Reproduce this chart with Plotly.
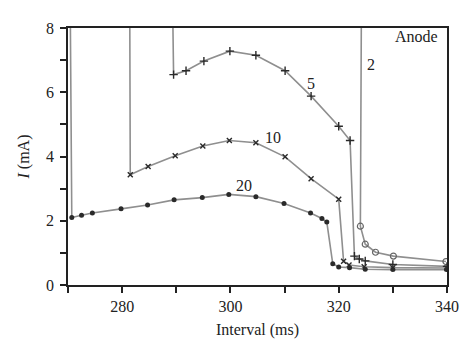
import plotly.graph_objects as go

# Series data (Interval ms, current mA); first point of each series is off-chart (vertical entry line)
x_2 = [324.2, 324.0, 324.9, 326.8, 330.1, 339.8]
y_2 = [9.0, 1.83, 1.27, 1.02, 0.90, 0.73]

x_5 = [289.3, 289.5, 291.8, 295.1, 299.9, 304.7, 310.1, 314.9, 320.0, 322.1, 322.9, 323.8, 324.9, 330.0, 340.0]
y_5 = [9.0, 6.55, 6.67, 6.97, 7.28, 7.15, 6.67, 5.88, 4.94, 4.50, 0.90, 0.81, 0.75, 0.64, 0.58]

x_10 = [281.4, 281.5, 284.8, 289.8, 294.9, 299.8, 304.7, 310.1, 314.9, 320.0, 320.9, 321.9, 324.7, 330.0, 340.0]
y_10 = [9.0, 3.43, 3.69, 4.02, 4.33, 4.50, 4.43, 3.99, 3.31, 2.67, 0.74, 0.62, 0.57, 0.54, 0.53]

x_20 = [270.4, 270.7, 272.5, 274.5, 279.8, 284.7, 289.6, 294.8, 299.7, 304.7, 309.9, 314.8, 316.9, 317.8,
        318.9, 320.0, 322.0, 324.9, 330.0, 339.9]
y_20 = [9.0, 2.10, 2.17, 2.24, 2.37, 2.49, 2.65, 2.72, 2.82, 2.75, 2.54, 2.24, 2.07, 1.96,
        0.66, 0.56, 0.54, 0.49, 0.48, 0.48]

label_text = ["Anode", "2", "5", "10", "20"]
label_x = [334.3, 325.9, 314.8, 307.9, 302.5]
label_y = [7.73, 6.87, 6.28, 4.58, 3.10]

x_tickvals = [270, 280, 290, 300, 310, 320, 330, 340]
x_ticktext = ["", "280", "", "300", "", "320", "", "340"]
y_tickvals = [0, 1, 2, 3, 4, 5, 6, 7, 8]
y_ticktext = ["0", "", "2", "", "4", "", "6", "", "8"]

FONT = "Liberation Serif"
LINE_C = "#8f8f8f"
MARK_C = "#2a2a2a"

fig = go.Figure()
fig.add_trace(go.Scatter(x=x_2, y=y_2, mode="lines+markers",
                         line=dict(color=LINE_C, width=1.6),
                         marker=dict(symbol="circle-open", size=6, color="#666666", line=dict(width=1.2))))
fig.add_trace(go.Scatter(x=x_5, y=y_5, mode="lines+markers",
                         line=dict(color=LINE_C, width=1.6),
                         marker=dict(symbol="cross-thin", size=6, color=MARK_C, line=dict(width=1.4, color=MARK_C))))
fig.add_trace(go.Scatter(x=x_10, y=y_10, mode="lines+markers",
                         line=dict(color=LINE_C, width=1.6),
                         marker=dict(symbol="x-thin", size=5, color=MARK_C, line=dict(width=1.4, color=MARK_C))))
fig.add_trace(go.Scatter(x=x_20, y=y_20, mode="lines+markers",
                         line=dict(color=LINE_C, width=1.6),
                         marker=dict(symbol="circle", size=5, color=MARK_C)))

for t, lx, ly in zip(label_text, label_x, label_y):
    fig.add_annotation(x=lx, y=ly, text=t, showarrow=False,
                       font=dict(family=FONT, size=16, color="#222222"))

fig.update_layout(
    width=466, height=347,
    margin=dict(l=60, r=27, t=15, b=70),
    paper_bgcolor="white", plot_bgcolor="white",
    showlegend=False,
    font=dict(family=FONT, size=15, color="#222222"),
)
fig.update_xaxes(range=[270, 340], tickvals=x_tickvals, ticktext=x_ticktext,
                 ticks="outside", ticklen=6, tickwidth=1.5, tickcolor="#222222",
                 showline=True, linecolor="#222222", linewidth=1.5, mirror=True,
                 showgrid=False, zeroline=False,
                 title=dict(text="Interval (ms)", font=dict(family=FONT, size=16), standoff=10),
                 tickfont=dict(family=FONT, size=16))
fig.update_yaxes(range=[0, 8], tickvals=y_tickvals, ticktext=y_ticktext,
                 ticks="outside", ticklen=6, tickwidth=1.5, tickcolor="#222222",
                 showline=True, linecolor="#222222", linewidth=1.5, mirror=True,
                 showgrid=False, zeroline=False, ticklabelstandoff=3,
                 title=dict(text="<i>I</i> (mA)", font=dict(family=FONT, size=16), standoff=12),
                 tickfont=dict(family=FONT, size=16))

fig.write_html("out.html")
